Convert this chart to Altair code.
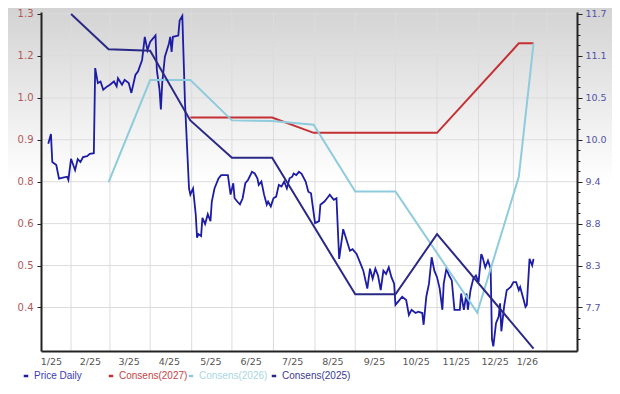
import altair as alt
import pandas as pd

# ---------------- data ----------------
price_dates = [
    "2025-01-15", "2025-01-17", "2025-01-18", "2025-01-21", "2025-01-23", "2025-01-26", "2025-01-29", "2025-01-30",
    "2025-02-01", "2025-02-04", "2025-02-06", "2025-02-08", "2025-02-10", "2025-02-13", "2025-02-15", "2025-02-18",
    "2025-02-19", "2025-02-21", "2025-02-23", "2025-02-25", "2025-02-28", "2025-03-02", "2025-03-05", "2025-03-07",
    "2025-03-08", "2025-03-11", "2025-03-13", "2025-03-16", "2025-03-18", "2025-03-21", "2025-03-23", "2025-03-26",
    "2025-03-28", "2025-03-30", "2025-04-01", "2025-04-05", "2025-04-06", "2025-04-08", "2025-04-09", "2025-04-10",
    "2025-04-12", "2025-04-15", "2025-04-16", "2025-04-17", "2025-04-18", "2025-04-22", "2025-04-23", "2025-04-25",
    "2025-04-27", "2025-04-30", "2025-05-01", "2025-05-03", "2025-05-05", "2025-05-06", "2025-05-07", "2025-05-09",
    "2025-05-10", "2025-05-12", "2025-05-14", "2025-05-16", "2025-05-17", "2025-05-19", "2025-05-22", "2025-05-24",
    "2025-05-27", "2025-05-29", "2025-05-31", "2025-06-02", "2025-06-03", "2025-06-05", "2025-06-07", "2025-06-09",
    "2025-06-11", "2025-06-13", "2025-06-16", "2025-06-18", "2025-06-20", "2025-06-21", "2025-06-23", "2025-06-25",
    "2025-06-27", "2025-06-28", "2025-06-30", "2025-07-02", "2025-07-04", "2025-07-06", "2025-07-08", "2025-07-10",
    "2025-07-12", "2025-07-14", "2025-07-16", "2025-07-17", "2025-07-19", "2025-07-21", "2025-07-23", "2025-07-26",
    "2025-07-28", "2025-07-30", "2025-08-02", "2025-08-05", "2025-08-06", "2025-08-09", "2025-08-11", "2025-08-13",
    "2025-08-16", "2025-08-18", "2025-08-20", "2025-08-23", "2025-08-25", "2025-08-28", "2025-08-30", "2025-09-02",
    "2025-09-05", "2025-09-07", "2025-09-10", "2025-09-12", "2025-09-14", "2025-09-16", "2025-09-18", "2025-09-20",
    "2025-09-22", "2025-09-24", "2025-09-26", "2025-09-28", "2025-09-30", "2025-10-01", "2025-10-03", "2025-10-06",
    "2025-10-09", "2025-10-11", "2025-10-13", "2025-10-16", "2025-10-18", "2025-10-21", "2025-10-22", "2025-10-24",
    "2025-10-26", "2025-10-28", "2025-10-30", "2025-11-01", "2025-11-03", "2025-11-05", "2025-11-06", "2025-11-08",
    "2025-11-10", "2025-11-12", "2025-11-14", "2025-11-16", "2025-11-18", "2025-11-19", "2025-11-21", "2025-11-23",
    "2025-11-24", "2025-11-26", "2025-11-28", "2025-11-30", "2025-12-02", "2025-12-04", "2025-12-05", "2025-12-07",
    "2025-12-09", "2025-12-11", "2025-12-12", "2025-12-13", "2025-12-15", "2025-12-17", "2025-12-18", "2025-12-19",
    "2025-12-21", "2025-12-23", "2025-12-26", "2025-12-28", "2025-12-30", "2026-01-01", "2026-01-02", "2026-01-04",
    "2026-01-06", "2026-01-07", "2026-01-09", "2026-01-11", "2026-01-12",
]
price_values = [
    0.902, 0.932, 0.846, 0.837, 0.795, 0.798, 0.801, 0.791,
    0.856, 0.821, 0.855, 0.846, 0.861, 0.864, 0.871, 0.873,
    1.134, 1.088, 1.093, 1.068, 1.078, 1.083, 1.093, 1.078,
    1.103, 1.083, 1.098, 1.088, 1.058, 1.113, 1.124, 1.159,
    1.230, 1.189, 1.214, 1.234, 1.128, 1.068, 1.007, 1.088,
    1.169, 1.209, 1.230, 1.184, 1.230, 1.234, 1.280, 1.294,
    1.028, 0.765, 0.746, 0.765, 0.686, 0.614, 0.625, 0.619,
    0.675, 0.656, 0.686, 0.665, 0.725, 0.765, 0.796, 0.806,
    0.806, 0.806, 0.746, 0.781, 0.735, 0.725, 0.716, 0.735,
    0.781, 0.791, 0.816, 0.811, 0.796, 0.776, 0.786, 0.746,
    0.715, 0.725, 0.710, 0.735, 0.740, 0.776, 0.771, 0.786,
    0.765, 0.796, 0.801, 0.811, 0.806, 0.816, 0.810, 0.786,
    0.755, 0.750, 0.659, 0.665, 0.715, 0.725, 0.735, 0.746,
    0.730, 0.735, 0.549, 0.640, 0.614, 0.574, 0.579, 0.564,
    0.534, 0.513, 0.458, 0.519, 0.488, 0.519, 0.498, 0.453,
    0.513, 0.503, 0.523, 0.493, 0.473, 0.408, 0.418, 0.433,
    0.423, 0.377, 0.393, 0.383, 0.387, 0.383, 0.347, 0.433,
    0.473, 0.554, 0.513, 0.493, 0.458, 0.393, 0.473, 0.519,
    0.498, 0.483, 0.393, 0.393, 0.393, 0.443, 0.393, 0.443,
    0.393, 0.453, 0.488, 0.498, 0.478, 0.564, 0.554, 0.523,
    0.544, 0.519, 0.302, 0.281, 0.352, 0.372, 0.413, 0.327,
    0.402, 0.453, 0.463, 0.478, 0.478, 0.453, 0.463, 0.433,
    0.402, 0.408, 0.549, 0.529, 0.549,
]

c2027_dates = ["2025-05-01", "2025-07-01", "2025-08-01", "2025-11-01", "2026-01-01", "2026-01-12"]
c2027_values = [10.29, 10.29, 10.08, 10.08, 11.30, 11.30]

c2026_dates = ["2025-03-01", "2025-04-01", "2025-05-01", "2025-06-01", "2025-07-01", "2025-08-01",
               "2025-09-01", "2025-10-01", "2025-12-01", "2026-01-01", "2026-01-12"]
c2026_values = [9.41, 10.80, 10.80, 10.25, 10.24, 10.19, 9.28, 9.28, 7.63, 9.48, 11.30]

c2025_dates = ["2025-02-01", "2025-03-01", "2025-04-01", "2025-05-01", "2025-06-01", "2025-07-01",
               "2025-08-01", "2025-09-01", "2025-10-01", "2025-11-01", "2026-01-12"]
c2025_values = [11.70, 11.22, 11.20, 10.25, 9.74, 9.74, 8.81, 7.88, 7.88, 8.70, 7.14]

series_names = ["Price Daily", "Consens(2027)", "Consens(2026)", "Consens(2025)"]
series_colors = ["#1c1ca6", "#c43034", "#8ecbdc", "#2a2a86"]
legend_label_colors = ["#3c3cb4", "#c24448", "#a9d6e4", "#3a3a94"]

left_tick_labels = ["0.4", "0.5", "0.6", "0.8", "0.9", "1.0", "1.2", "1.3"]
right_tick_labels = ["7.7", "8.3", "8.8", "9.4", "10.0", "10.5", "11.1", "11.7"]

x_label_dates = ["2025-01-17", "2025-02-15", "2025-03-16", "2025-04-15", "2025-05-16", "2025-06-15",
                 "2025-07-16", "2025-08-15", "2025-09-15", "2025-10-16", "2025-11-15", "2025-12-14",
                 "2026-01-07"]
x_grid_dates = ["2025-02-01", "2025-03-02", "2025-04-01", "2025-05-02", "2025-06-01", "2025-07-02",
                "2025-08-02", "2025-09-01", "2025-10-01", "2025-11-01", "2025-12-02", "2025-12-28",
                "2026-01-22"]

# ---------------- layout ----------------
W, H = 536, 339
TOP = 4
FONT_AX = "DejaVu Sans"
FONT_LEG = "Liberation Sans"

left_step = 0.9 / 7
left_vals = [round(0.4 + k * left_step, 6) for k in range(8)]
right_step = 4.0 / 7
right_vals = [round(7.7 + k * right_step / 4, 6) for k in range(-3, 29)]


def dt(s):
    y, m, d = (int(p) for p in s.split("-"))
    return alt.DateTime(year=y, month=m, date=d, utc=True)


x_scale = alt.Scale(type="utc",
                    domain=[alt.DateTime(year=2025, month=1, date=9, hours=14, utc=True),
                            alt.DateTime(year=2026, month=2, date=13, hours=10, utc=True)])
x_axis = alt.Axis(values=[dt(s) for s in x_label_dates],
                  labelExpr="utcFormat(datum.value, '%-m/%y')",
                  grid=False, ticks=False, tickSize=0, domainColor="#222222", domainWidth=2,
                  labelColor="#555555", labelFont=FONT_AX, labelFontSize=9.5, labelPadding=5,
                  labelOverlap=False, labelFlush=False, title=None, zindex=1)

left_scale = alt.Scale(domain=[0.2666, 1.3061], nice=False, zero=False)
left_labels_js = "[" + ",".join("'%s'" % s for s in left_tick_labels) + "]"
left_axis = alt.Axis(values=left_vals, orient="left",
                     labelExpr=left_labels_js + "[round((datum.value - 0.4) / %f)]" % left_step,
                     grid=False, domainColor="#222222", domainWidth=2, tickColor="#222222",
                     tickSize=4, labelColor="#b0585c", labelFont=FONT_AX, labelFontSize=10,
                     labelPadding=4, labelOverlap=False, title=None, zindex=1)

right_scale = alt.Scale(domain=[7.107, 11.727], nice=False, zero=False)
right_labels_js = "[" + ",".join("'%s'" % s for s in right_tick_labels) + "]"
major_test = "round((datum.value - 7.7) / %f) %% 4 == 0 && datum.value > 7.6" % (right_step / 4)
right_axis = alt.Axis(values=right_vals, orient="right",
                      labelExpr="(" + major_test + ") ? " + right_labels_js +
                                "[round((datum.value - 7.7) / %f)] : ''" % right_step,
                      grid=False, domainColor="#222222", domainWidth=2, tickColor="#222222",
                      tickSize={"condition": {"test": major_test, "value": 5}, "value": 3},
                      labelColor="#5252a6", labelFont=FONT_AX, labelFontSize=9.5,
                      labelPadding=3, labelOverlap=False, title=None, zindex=1)

legend_x = [-20, 65, 145, 228]


def color_enc(i):
    return alt.Color("series:N",
                     scale=alt.Scale(domain=[series_names[i]], range=[series_colors[i]]),
                     legend=alt.Legend(orient="none", legendX=legend_x[i], legendY=359,
                                       direction="horizontal", title=None, padding=0,
                                       symbolType="stroke", symbolSize=20, symbolStrokeWidth=2.5,
                                       labelColor=legend_label_colors[i], labelFont=FONT_LEG,
                                       labelFontSize=10, labelOffset=3))


price_df = pd.DataFrame({"date": price_dates, "value": price_values, "series": series_names[0]})
c27_df = pd.DataFrame({"date": c2027_dates, "value": c2027_values, "series": series_names[1]})
c26_df = pd.DataFrame({"date": c2026_dates, "value": c2026_values, "series": series_names[2]})
c25_df = pd.DataFrame({"date": c2025_dates, "value": c2025_values, "series": series_names[3]})
vgrid_df = pd.DataFrame({"date": x_grid_dates})
hgrid_df = pd.DataFrame({"v": left_vals})

bg = alt.Chart(pd.DataFrame({"a": [0]})).mark_rect(
    fill={"gradient": "linear", "x1": 0, "y1": 0, "x2": 0, "y2": 1,
          "stops": [{"offset": 0, "color": "#d3d3d3"}, {"offset": 1, "color": "#ffffff"}]}
).encode(x=alt.value(-33), x2=alt.value(W + 36), y=alt.value(-TOP), y2=alt.value(170))

vgrid = alt.Chart(vgrid_df).mark_rule(color="#dcdcdc", strokeWidth=1).encode(
    x=alt.X("date:T", scale=x_scale, axis=x_axis), y=alt.value(0), y2=alt.value(H))

hgrid = alt.Chart(hgrid_df).mark_rule(color="#dcdcdc", strokeWidth=1).encode(
    y=alt.Y("v:Q", scale=left_scale, axis=left_axis), x=alt.value(0), x2=alt.value(W))

price = alt.Chart(price_df).mark_line(strokeWidth=1.8).encode(
    x=alt.X("date:T", scale=x_scale, axis=x_axis),
    y=alt.Y("value:Q", scale=left_scale, axis=left_axis),
    color=color_enc(0))


def cons(df, i):
    return alt.Chart(df).mark_line(strokeWidth=2).encode(
        x=alt.X("date:T", scale=x_scale, axis=x_axis),
        y=alt.Y("value:Q", scale=right_scale, axis=right_axis),
        color=color_enc(i))


left_group = alt.layer(bg, vgrid, hgrid, price)
right_group = alt.layer(cons(c27_df, 1), cons(c26_df, 2), cons(c25_df, 3)).resolve_scale(color="independent")

chart = alt.layer(left_group, right_group).resolve_scale(
    y="independent", color="independent"
).properties(
    width=W, height=H,
    autosize=alt.AutoSizeParams(type="none"),
    padding={"left": 33, "top": TOP, "right": 35, "bottom": 35},
    background="#ffffff",
).configure_view(stroke=None)

chart.save("out.html", embed_options={"renderer": "svg", "actions": False})
